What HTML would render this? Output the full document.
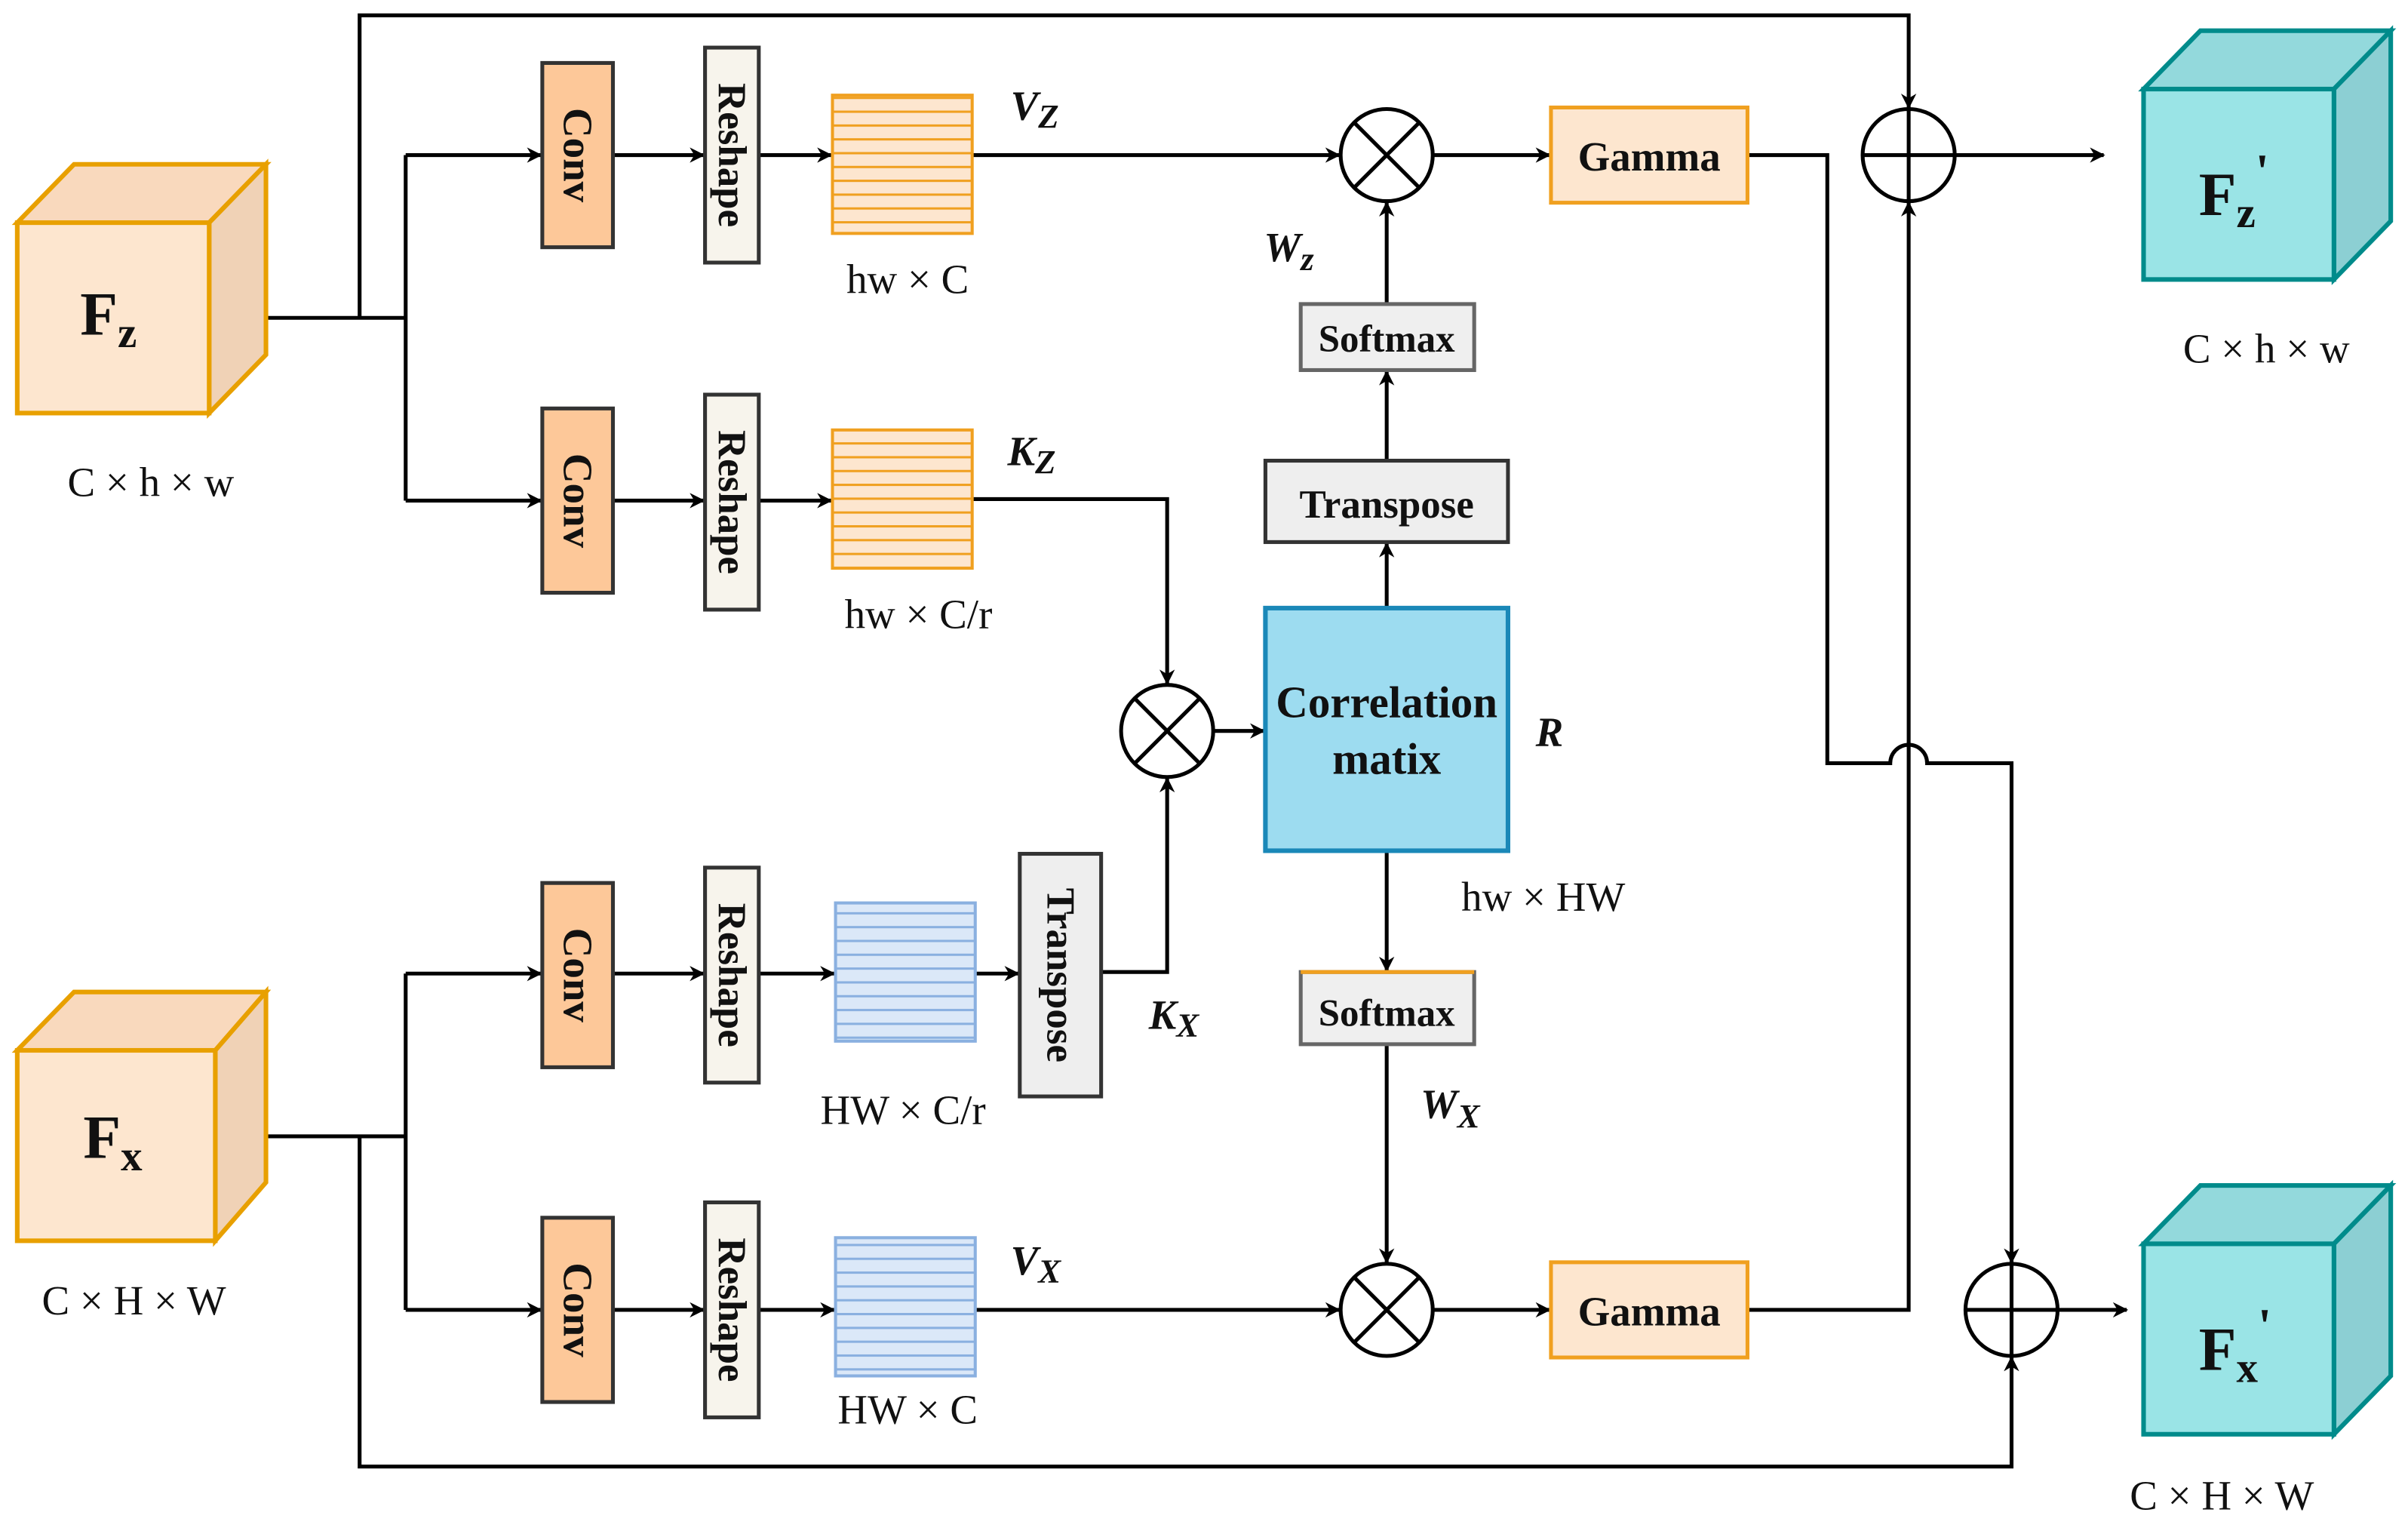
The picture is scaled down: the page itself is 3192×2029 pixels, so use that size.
<!DOCTYPE html>
<html><head><meta charset="utf-8"><style>html,body{margin:0;padding:0;background:#fff}svg{display:block}svg text{font-family:"Liberation Serif","Times New Roman",Tinos,"Nimbus Roman","DejaVu Serif",serif}</style></head><body>
<svg width="3192" height="2029" viewBox="0 0 1568 997" xmlns="http://www.w3.org/2000/svg">
<defs><marker id="a" markerWidth="10" markerHeight="10" refX="9" refY="5" orient="auto" markerUnits="userSpaceOnUse"><path d="M0,0 L10,5 L0,10 L3,5 z" fill="#000"/></marker>
<pattern id="po" width="10" height="9" patternUnits="userSpaceOnUse"><rect width="10" height="9" fill="#fde6cf"/><rect y="0" width="10" height="1.5" fill="#f0a020"/></pattern>
<pattern id="pb" width="10" height="9" patternUnits="userSpaceOnUse"><rect width="10" height="9" fill="#dbe8f8"/><rect y="0" width="10" height="1.5" fill="#8ab0e0"/></pattern></defs>
<g fill="none" stroke="#000" stroke-width="2.5">
<polyline points="173,207 264,207"/><polyline points="234,207 234,10 1243,10 1243,70" marker-end="url(#a)"/>
<polyline points="264,101 264,326"/>
<line x1="264" y1="101" x2="352" y2="101" marker-end="url(#a)"/><line x1="264" y1="326" x2="352" y2="326" marker-end="url(#a)"/>
<line x1="399" y1="101" x2="458" y2="101" marker-end="url(#a)"/><line x1="399" y1="326" x2="458" y2="326" marker-end="url(#a)"/>
<line x1="494" y1="101" x2="541" y2="101" marker-end="url(#a)"/><line x1="494" y1="326" x2="541" y2="326" marker-end="url(#a)"/>
<line x1="633" y1="101" x2="872" y2="101" marker-end="url(#a)"/>
<polyline points="633,325 760,325 760,445" marker-end="url(#a)"/>
<polyline points="173,740 264,740"/><polyline points="234,740 234,955 1310,955 1310,884" marker-end="url(#a)"/>
<polyline points="264,634 264,853"/>
<line x1="264" y1="634" x2="352" y2="634" marker-end="url(#a)"/><line x1="264" y1="853" x2="352" y2="853" marker-end="url(#a)"/>
<line x1="399" y1="634" x2="458" y2="634" marker-end="url(#a)"/><line x1="399" y1="853" x2="458" y2="853" marker-end="url(#a)"/>
<line x1="494" y1="634" x2="543" y2="634" marker-end="url(#a)"/><line x1="494" y1="853" x2="543" y2="853" marker-end="url(#a)"/>
<line x1="635" y1="634" x2="663" y2="634" marker-end="url(#a)"/>
<polyline points="717,633 760,633 760,507" marker-end="url(#a)"/>
<line x1="635" y1="853" x2="872" y2="853" marker-end="url(#a)"/>
<line x1="790" y1="476" x2="823" y2="476" marker-end="url(#a)"/>
<line x1="903" y1="396" x2="903" y2="354" marker-end="url(#a)"/>
<line x1="903" y1="300" x2="903" y2="242" marker-end="url(#a)"/>
<line x1="903" y1="198" x2="903" y2="132" marker-end="url(#a)"/>
<line x1="903" y1="554" x2="903" y2="632" marker-end="url(#a)"/>
<line x1="903" y1="680" x2="903" y2="822" marker-end="url(#a)"/>
<line x1="933" y1="101" x2="1009" y2="101" marker-end="url(#a)"/>
<line x1="933" y1="853" x2="1009" y2="853" marker-end="url(#a)"/>
<line x1="1273" y1="101" x2="1370" y2="101" marker-end="url(#a)"/>
<line x1="1340" y1="853" x2="1385" y2="853" marker-end="url(#a)"/>
<polyline points="1138,853 1243,853 1243,132" marker-end="url(#a)"/>
<path d="M1138,101 H1190 V497 H1231 A12,12 0 0 1 1255,497 H1310 V822" marker-end="url(#a)"/>
<circle cx="903" cy="101" r="30"/><line x1="882" y1="80" x2="924" y2="122"/><line x1="924" y1="80" x2="882" y2="122"/>
<circle cx="760" cy="476" r="30"/><line x1="739" y1="455" x2="781" y2="497"/><line x1="781" y1="455" x2="739" y2="497"/>
<circle cx="903" cy="853" r="30"/><line x1="882" y1="832" x2="924" y2="874"/><line x1="924" y1="832" x2="882" y2="874"/>
<circle cx="1243" cy="101" r="30"/><line x1="1213" y1="101" x2="1273" y2="101"/><line x1="1243" y1="71" x2="1243" y2="131"/>
<circle cx="1310" cy="853" r="30"/><line x1="1280" y1="853" x2="1340" y2="853"/><line x1="1310" y1="823" x2="1310" y2="883"/>
</g>
<g stroke="#e8a000" stroke-width="3">
<polygon points="11,145 48,107 173,107 136,145" fill="#f9d9bd"/><polygon points="136,145 173,107 173,231 136,269" fill="#f0d2b6"/><rect x="11" y="145" width="125" height="124" fill="#fde6cf"/>
<polygon points="11,684 48,646 173,646 140,684" fill="#f9d9bd"/><polygon points="140,684 173,646 173,770 140,808" fill="#f0d2b6"/><rect x="11" y="684" width="129" height="124" fill="#fde6cf"/>
</g>
<g stroke="#008b8b" stroke-width="3">
<polygon points="1396,58 1433,20 1557,20 1520,58" fill="#93d9dc"/><polygon points="1520,58 1557,20 1557,144 1520,182" fill="#8ccfd3"/><rect x="1396" y="58" width="124" height="124" fill="#9ae4e6"/>
<polygon points="1396,810 1433,772 1557,772 1520,810" fill="#93d9dc"/><polygon points="1520,810 1557,772 1557,896 1520,934" fill="#8ccfd3"/><rect x="1396" y="810" width="124" height="124" fill="#9ae4e6"/>
</g>
<g stroke="#333" stroke-width="2.5">
<rect x="353" y="41" width="46" height="120" fill="#fdc899"/><rect x="353" y="266" width="46" height="120" fill="#fdc899"/>
<rect x="353" y="575" width="46" height="120" fill="#fdc899"/><rect x="353" y="793" width="46" height="120" fill="#fdc899"/>
<rect x="459" y="31" width="35" height="140" fill="#f7f4ec"/><rect x="459" y="257" width="35" height="140" fill="#f7f4ec"/>
<rect x="459" y="565" width="35" height="140" fill="#f7f4ec"/><rect x="459" y="783" width="35" height="140" fill="#f7f4ec"/>
<rect x="664" y="556" width="53" height="158" fill="#eeeeee"/>
<rect x="824" y="300" width="158" height="53" fill="#eeeeee"/>
</g>
<g stroke="#666" stroke-width="2.5"><rect x="847" y="198" width="113" height="43" fill="#efefef"/><rect x="847" y="633" width="113" height="47" fill="#efefef"/></g>
<line x1="847" y1="633" x2="960" y2="633" stroke="#f0a020" stroke-width="2.5"/>
<rect x="824" y="396" width="158" height="158" fill="#9ddcf0" stroke="#1a88b8" stroke-width="3"/>
<rect x="1010" y="70" width="128" height="62" fill="#fde6cf" stroke="#f0a020" stroke-width="2.5"/>
<rect x="1010" y="822" width="128" height="62" fill="#fde6cf" stroke="#f0a020" stroke-width="2.5"/>
<rect x="542" y="62" width="91" height="90" fill="url(#po)" stroke="#f0a020" stroke-width="2"/>
<rect x="542" y="280" width="91" height="90" fill="url(#po)" stroke="#f0a020" stroke-width="2"/>
<rect x="544" y="588" width="91" height="90" fill="url(#pb)" stroke="#8ab0e0" stroke-width="2"/>
<rect x="544" y="806" width="91" height="90" fill="url(#pb)" stroke="#8ab0e0" stroke-width="2"/>
<g font-weight="bold" font-size="27" fill="#111">
<text transform="translate(367,101) rotate(90)" text-anchor="middle">Conv</text>
<text transform="translate(367,326) rotate(90)" text-anchor="middle">Conv</text>
<text transform="translate(367,635) rotate(90)" text-anchor="middle">Conv</text>
<text transform="translate(367,853) rotate(90)" text-anchor="middle">Conv</text>
<text transform="translate(468,101) rotate(90)" text-anchor="middle" font-size="26">Reshape</text>
<text transform="translate(468,327) rotate(90)" text-anchor="middle" font-size="26">Reshape</text>
<text transform="translate(468,635) rotate(90)" text-anchor="middle" font-size="26">Reshape</text>
<text transform="translate(468,853) rotate(90)" text-anchor="middle" font-size="26">Reshape</text>
<text transform="translate(682,635) rotate(90)" text-anchor="middle" font-size="26">Transpose</text>
<text x="903" y="337" text-anchor="middle" font-size="26">Transpose</text>
<text x="903" y="229" text-anchor="middle" font-size="25">Softmax</text>
<text x="903" y="668" text-anchor="middle" font-size="25">Softmax</text>
<text x="903" y="467" text-anchor="middle" font-size="29">Correlation</text>
<text x="903" y="504" text-anchor="middle" font-size="29">matix</text>
<text x="1074" y="111" text-anchor="middle">Gamma</text>
<text x="1074" y="863" text-anchor="middle">Gamma</text>
<text x="52" y="218" font-size="40">F<tspan font-size="28" dy="8">z</tspan></text>
<text x="54" y="754" font-size="40">F<tspan font-size="28" dy="8">x</tspan></text>
<text x="1432" y="140" font-size="40">F<tspan font-size="28" dy="8">z</tspan><tspan dy="-26" font-size="32">'</tspan></text>
<text x="1432" y="892" font-size="40">F<tspan font-size="28" dy="8">x</tspan><tspan dy="-26" font-size="32">'</tspan></text>
</g>
<g font-style="italic" font-weight="bold" font-size="27" fill="#111">
<text x="658" y="78">V<tspan font-size="22" dy="5">Z</tspan></text>
<text x="656" y="303">K<tspan font-size="22" dy="5">Z</tspan></text>
<text x="748" y="670">K<tspan font-size="22" dy="5">X</tspan></text>
<text x="658" y="830">V<tspan font-size="22" dy="5">X</tspan></text>
<text x="823" y="170">W<tspan font-size="22" dy="6">z</tspan></text>
<text x="925" y="728">W<tspan font-size="22" dy="6">X</tspan></text>
<text x="1000" y="486">R</text>
</g>
<g font-size="27" fill="#111" text-anchor="middle">
<text x="98" y="323">C × h × w</text>
<text x="87" y="856">C × H × W</text>
<text x="1476" y="236">C × h × w</text>
<text x="1447" y="983">C × H × W</text>
<text x="591" y="191">hw × C</text>
<text x="598" y="409">hw × C/r</text>
<text x="588" y="732">HW × C/r</text>
<text x="591" y="927">HW × C</text>
<text x="1005" y="593">hw × HW</text>
</g>
</svg>
</body></html>
